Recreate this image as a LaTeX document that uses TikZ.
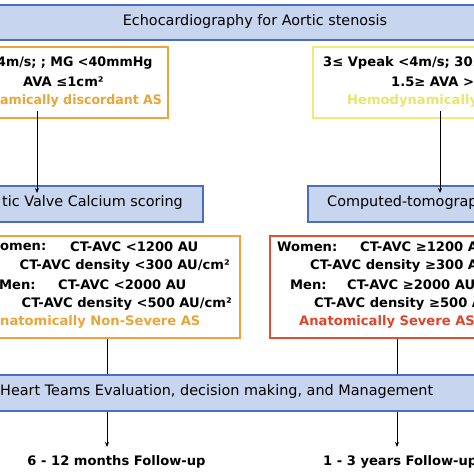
\documentclass[tikz,border=0pt]{standalone}
\usepackage{fontspec}
\setmainfont{DejaVu Sans}
\usetikzlibrary{arrows.meta}
\definecolor{bfill}{HTML}{C8D5EF}
\definecolor{bline}{HTML}{4A6CC4}
\definecolor{orng}{HTML}{EFA236}
\definecolor{orngtxt}{HTML}{E9A53A}
\definecolor{yell}{HTML}{EEEC78}
\definecolor{yelltxt}{HTML}{E6E66E}
\definecolor{redl}{HTML}{E2502F}
\definecolor{redtxt}{HTML}{E0452C}
\tikzset{
  bluebox/.style={draw=bline,fill=bfill,line width=1.8pt,inner sep=0pt,anchor=north west},
  framebox/.style={draw=#1,fill=white,line width=2.2pt,inner sep=0pt,anchor=north west},
  txt/.style={inner sep=0pt,font=\fontsize{14.4}{16}\selectfont},
  btxt/.style={inner sep=0pt,font=\fontsize{13.1}{15}\selectfont\bfseries},
  arr/.style={draw=black,line width=1pt,-{Stealth[length=5pt,width=4pt]}},
  ln/.style={draw=black,line width=1pt}
}
\begin{document}
\begin{tikzpicture}[x=1pt,y=-1pt]
\useasboundingbox (0,0) rectangle (474,474);
\clip (0,0) rectangle (474,474);
\fill[white] (0,0) rectangle (474,474);
% boxes
\node[bluebox,minimum width=500pt,minimum height=35pt] (top) at (-13,4) {};
\node[framebox=orng,minimum width=230pt,minimum height=71pt] (lb1) at (-63,46) {};
\node[framebox=yell,minimum width=230pt,minimum height=71pt] (rb1) at (312,46) {};
\node[bluebox,minimum width=265pt,minimum height=36pt] (lb2) at (-63,185) {};
\node[bluebox,minimum width=235pt,minimum height=36pt] (rb2) at (307,185) {};
\node[framebox=orng,minimum width=302pt,minimum height=102pt] (lb3) at (-63,235) {};
\node[framebox=redl,minimum width=275pt,minimum height=102pt] (rb3) at (269,235) {};
\node[bluebox,minimum width=500pt,minimum height=36pt] (heart) at (-13,374) {};
% texts
\node[txt] (ttop) at (255,22) {Echocardiography for Aortic stenosis};
\node[btxt,anchor=west,xscale=0.97] (l1a) at (-3,63) {4m/s; ; MG <40mmHg};
\node[btxt,anchor=west] (l1b) at (23,82) {AVA ≤1cm²};
\node[btxt,anchor=west,text=orngtxt,xscale=0.96] (l1c) at (0,101) {amically discordant AS};
\node[btxt,anchor=west] (r1a) at (323,63) {3≤ Vpeak <4m/s; 30≤};
\node[btxt,anchor=west] (r1b) at (391,82) {1.5≥ AVA >};
\node[btxt,anchor=west,text=yelltxt] (r1c) at (347,101) {Hemodynamically};
\node[txt,anchor=east] (l2t) at (183,203) {tic Valve Calcium scoring};
\node[txt,anchor=west] (r2t) at (327,203) {Computed-tomograp};
\node[btxt,anchor=west] (l3a1) at (0,247) {omen:};
\node[btxt,anchor=west] (l3a2) at (70,247) {CT-AVC <1200 AU};
\node[btxt,anchor=east] (l3b) at (230,266) {CT-AVC density <300 AU/cm²};
\node[btxt,anchor=west] (l3c1) at (-1,285) {Men:};
\node[btxt,anchor=west] (l3c2) at (58,285) {CT-AVC <2000 AU};
\node[btxt,anchor=east] (l3d) at (232,304) {CT-AVC density <500 AU/cm²};
\node[btxt,anchor=west,text=orngtxt] (l3e) at (0,322) {natomically Non-Severe AS};
\node[btxt,anchor=west] (r3a1) at (277,247) {Women:};
\node[btxt,anchor=west] (r3a2) at (360,247) {CT-AVC ≥1200 AU};
\node[btxt,anchor=west] (r3b) at (310,266) {CT-AVC density ≥300 A};
\node[btxt,anchor=west] (r3c1) at (290,285) {Men:};
\node[btxt,anchor=west] (r3c2) at (347,285) {CT-AVC ≥2000 AU};
\node[btxt,anchor=west] (r3d) at (314,304) {CT-AVC density ≥500 A};
\node[btxt,anchor=west,text=redtxt] (r3e) at (299,322) {Anatomically Severe AS};
\node[txt,anchor=west] (ht) at (0,392) {Heart Teams Evaluation, decision making, and Management};
\node[btxt] (f1) at (116.5,462) {6 - 12 months Follow-up};
\node[btxt,anchor=west] (f2) at (323,462) {1 - 3 years Follow-up};
% connectors
\coordinate (xa) at (37,0);
\coordinate (xb) at (440,0);
\coordinate (xc) at (107,447);
\coordinate (xd) at (397,447);
\draw[arr] ([yshift=8pt]lb1.south -| xa) -- ([yshift=-8pt]lb2.north -| xa);
\draw[arr] ([yshift=8pt]rb1.south -| xb) -- ([yshift=-8pt]rb2.north -| xb);
\draw[ln] (lb3.south -| xc) -- (heart.north -| xc);
\draw[ln] (rb3.south -| xd) -- (heart.north -| xd);
\draw[arr] (heart.south -| xc) -- (xc);
\draw[arr] (heart.south -| xd) -- (xd);
\end{tikzpicture}
\end{document}
